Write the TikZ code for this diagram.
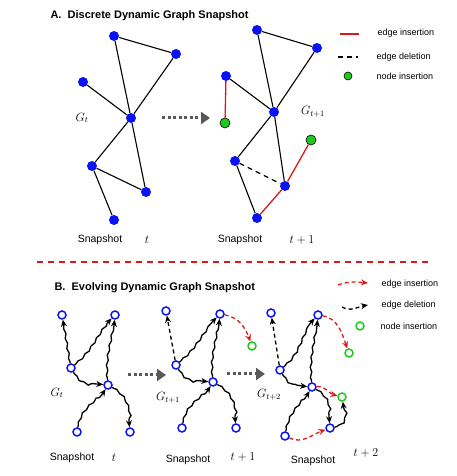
\documentclass[tikz,border=0pt]{standalone}
\usepackage{fontspec}
\setmainfont{Liberation Sans}
\usepackage{amssymb}
\usetikzlibrary{arrows.meta,decorations.pathmorphing}
\definecolor{nodeblue}{RGB}{10,20,240}
\definecolor{nodegreen}{RGB}{30,200,30}
\definecolor{edgered}{RGB}{220,25,25}

\begin{document}
\begin{tikzpicture}[x=1pt,y=1pt,
        vA/.style={circle,fill=nodeblue,inner sep=0pt,minimum size=10pt},
        vAnew/.style={circle,fill=nodegreen,draw=black,line width=.6pt,inner sep=0pt,minimum size=10pt},
        vB/.style={circle,draw=nodeblue,line width=1.5pt,inner sep=0pt,minimum size=8pt},
        vBnew/.style={circle,draw=nodegreen,line width=1.5pt,inner sep=0pt,minimum size=8pt},
        edge/.style={line width=1.1pt},
        insedge/.style={line width=1.3pt,edgered},
        deledge/.style={line width=1.3pt,dash pattern=on 5pt off 4pt},
        wavy/.style={line width=1.3pt,-{Stealth[length=7pt,width=6pt]},decorate,
            decoration={snake,amplitude=.8pt,segment length=10pt,pre length=2pt,post length=6pt}},
        insarrow/.style={line width=1.3pt,edgered,dash pattern=on 4pt off 3pt,-{Stealth[length=7pt,width=6pt]}},
        delarrow/.style={line width=1.3pt,dash pattern=on 4pt off 3pt,-{Stealth[length=7pt,width=6pt]}},
        nextarrow/.style={line width=3pt,black!65,dash pattern=on 3pt off 2.5pt,-{Triangle[length=9pt,width=12pt]}},
        title/.style={font=\bfseries\fontsize{11}{13}\selectfont,anchor=west},
        caption/.style={font=\fontsize{10.5}{12}\selectfont},
        legend/.style={font=\fontsize{9}{11}\selectfont,anchor=west},
        mathlabel/.style={font=\fontsize{12}{14}\selectfont}]
    \useasboundingbox (0,0) rectangle (456,476);

    \node[title] (titleA) at (47,460) {A.\ \ Discrete Dynamic Graph Snapshot};

    \node[vA] (a1) at (114,440) {};
    \node[vA] (a2) at (176,422) {};
    \node[vA] (a3) at (83,394) {};
    \node[vA] (a4) at (131,358) {};
    \node[vA] (a5) at (92,310) {};
    \node[vA] (a6) at (146,284) {};
    \node[vA] (a7) at (114,256) {};
    \node[mathlabel] (GA1) at (82,358) {$G_t$};
    \node[caption] (snapA1) at (100,236) {Snapshot};
    \node[mathlabel] (tA1) at (147,236) {$t$};

    \draw[edge] (a1) -- (a2);
    \draw[edge] (a1) -- (a4);
    \draw[edge] (a2) -- (a4);
    \draw[edge] (a3) -- (a4);
    \draw[edge] (a4) -- (a5);
    \draw[edge] (a4) -- (a6);
    \draw[edge] (a5) -- (a6);
    \draw[edge] (a5) -- (a7);

    \coordinate (goA1) at (162,358);
    \coordinate (goA2) at (210,358);
    \draw[nextarrow] (goA1) -- (goA2);

    \node[vA] (b1) at (257,446) {};
    \node[vA] (b2) at (317,428) {};
    \node[vA] (b3) at (226,400) {};
    \node[vAnew] (b9) at (225,353) {};
    \node[vA] (b4) at (274,364) {};
    \node[vAnew] (b8) at (311,336) {};
    \node[vA] (b5) at (235,315) {};
    \node[vA] (b6) at (285,290) {};
    \node[vA] (b7) at (257,258) {};
    \node[mathlabel] (GA2) at (313,364) {$G_{t+1}$};
    \node[caption] (snapA2) at (240,236) {Snapshot};
    \node[mathlabel] (tA2) at (302,236) {$t+1$};

    \draw[edge] (b1) -- (b2);
    \draw[edge] (b1) -- (b4);
    \draw[edge] (b2) -- (b4);
    \draw[edge] (b3) -- (b4);
    \draw[insedge] (b3) -- (b9);
    \draw[edge] (b4) -- (b5);
    \draw[edge] (b4) -- (b6);
    \draw[deledge] (b5) -- (b6);
    \draw[edge] (b5) -- (b7);
    \draw[insedge] (b7) -- (b6);
    \draw[insedge] (b6) -- (b8);

    \coordinate (legA1) at (340,442);
    \coordinate (legA2) at (359,442);
    \coordinate (legA3) at (338,419);
    \coordinate (legA4) at (358,419);
    \draw[insedge] (legA1) -- (legA2);
    \draw[deledge] (legA3) -- (legA4);
    \node[vAnew,minimum size=8pt] (legA5) at (348,400) {};
    \node[legend] (legA6) at (374,443) {edge insertion};
    \node[legend] (legA7) at (373,419) {edge deletion};
    \node[legend] (legA8) at (373,400) {node insertion};

    \coordinate (cut1) at (37,214);
    \coordinate (cut2) at (428,214);
    \draw[edgered,line width=1.2pt,dash pattern=on 6pt off 5pt] (cut1) -- (cut2);

    \node[title] (titleB) at (51,188) {B.\ \ Evolving Dynamic Graph Snapshot};

    \node[vB] (c1) at (62,161) {};
    \node[vB] (c2) at (115,161) {};
    \node[vB] (c3) at (71,108) {};
    \node[vB] (c4) at (108,91) {};
    \node[vB] (c5) at (77,44) {};
    \node[vB] (c6) at (130,44) {};
    \node[mathlabel] (GB1) at (57,83) {$G_t$};
    \node[caption] (snapB1) at (72,18) {Snapshot};
    \node[mathlabel] (tB1) at (114,18) {$t$};

    \draw[wavy] (c3) to[out=100,in=-80] (c1);
    \draw[wavy] (c3) to[out=40,in=-135] (c2);
    \draw[wavy] (c4) to[out=95,in=-95] (c2);
    \draw[wavy] (c3) to[out=-60,in=175] (c4);
    \draw[wavy] (c5) to[out=80,in=-120] (c4);
    \draw[wavy] (c4) to[out=-30,in=95] (c6);

    \coordinate (goB1) at (128,101);
    \coordinate (goB2) at (166,101);
    \draw[nextarrow] (goB1) -- (goB2);

    \node[vB] (d1) at (166,165) {};
    \node[vB] (d2) at (220,162) {};
    \node[vB] (d3) at (176,111) {};
    \node[vB] (d4) at (213,94) {};
    \node[vB] (d5) at (182,48) {};
    \node[vB] (d6) at (236,48) {};
    \node[vBnew] (d7) at (252,130) {};
    \node[mathlabel] (GB2) at (168,78) {$G_{t+1}$};
    \node[caption] (snapB2) at (188,16) {Snapshot};
    \node[mathlabel] (tB2) at (243,19) {$t+1$};

    \draw[delarrow] (d3) -- (d1);
    \draw[wavy] (d3) to[out=40,in=-135] (d2);
    \draw[wavy] (d4) to[out=95,in=-95] (d2);
    \draw[wavy] (d3) to[out=-60,in=175] (d4);
    \draw[wavy] (d5) to[out=80,in=-120] (d4);
    \draw[wavy] (d4) to[out=-30,in=95] (d6);
    \draw[insarrow] (d2) to[out=-10,in=110] (d7);

    \coordinate (goB3) at (227,102);
    \coordinate (goB4) at (265,102);
    \draw[nextarrow] (goB3) -- (goB4);

    \node[vB] (e1) at (271,163) {};
    \node[vB] (e2) at (318,161) {};
    \node[vB] (e3) at (280,106) {};
    \node[vB] (e4) at (312,89) {};
    \node[vB] (e5) at (285,40) {};
    \node[vB] (e6) at (330,48) {};
    \node[vBnew] (e7) at (342,79) {};
    \node[vBnew] (e8) at (349,123) {};
    \node[mathlabel] (GB3) at (269,81) {$G_{t+2}$};
    \node[caption] (snapB3) at (313,15) {Snapshot};
    \node[mathlabel] (tB3) at (366,23) {$t+2$};

    \draw[delarrow] (e3) -- (e1);
    \draw[wavy] (e3) to[out=40,in=-135] (e2);
    \draw[wavy] (e4) to[out=95,in=-95] (e2);
    \draw[wavy] (e3) to[out=-60,in=175] (e4);
    \draw[wavy] (e5) to[out=80,in=-120] (e4);
    \draw[wavy] (e4) to[out=-30,in=95] (e6);
    \draw[wavy] (e6) to[out=10,in=-80] (e7);
    \draw[insarrow] (e4) to[out=5,in=165] (e7);
    \draw[insarrow] (e5) to[out=-25,in=-160] (e6);
    \draw[insarrow] (e2) to[out=-10,in=110] (e8);

    \coordinate (legB1) at (338,191);
    \coordinate (legB2) at (368,193);
    \coordinate (legB3) at (342,169);
    \coordinate (legB4) at (368,171);
    \draw[insarrow] (legB1) to[out=20,in=175] (legB2);
    \draw[delarrow] (legB3) to[out=-30,in=190] (legB4);
    \node[vBnew] (legB5) at (360,150) {};
    \node[legend] (legB6) at (378,192) {edge insertion};
    \node[legend] (legB7) at (378,171) {edge deletion};
    \node[legend] (legB8) at (377,150) {node insertion};
\end{tikzpicture}
\end{document}
